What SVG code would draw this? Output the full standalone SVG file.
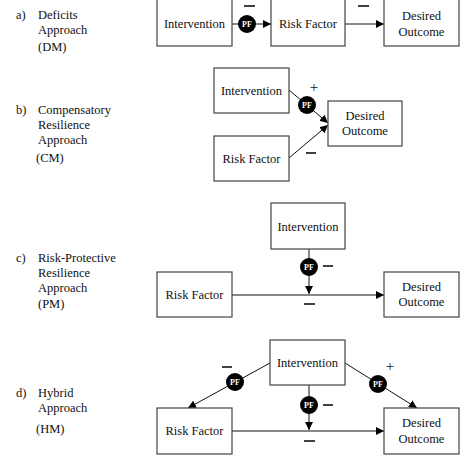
<svg xmlns="http://www.w3.org/2000/svg" width="474" height="469" viewBox="0 0 474 469" font-family="'Liberation Serif', 'Times New Roman', 'DejaVu Serif', serif">
<defs>
<style>
text{font-family:'Liberation Serif','Times New Roman','DejaVu Serif',serif;fill:#111;}
.t{font-size:12.5px;text-anchor:middle;}
.lab{font-size:12.5px;}
.box{fill:#fff;stroke:#444;stroke-width:1.2;}
.ln{stroke:#111;stroke-width:1;fill:none;}
.arr{marker-end:url(#ah);}
.pf{fill:#000;}
.pft{font-size:8px;font-weight:bold;fill:#fff;text-anchor:middle;}
.sg{stroke:#111;stroke-width:1.6;}
.plus{font-size:15px;text-anchor:middle;fill:#111;}
</style>
<marker id="ah" viewBox="0 0 10 10" refX="10" refY="5" markerWidth="8" markerHeight="8" markerUnits="userSpaceOnUse" orient="auto">
<path d="M0,0L10,5L0,10z" fill="#000"/>
</marker>
</defs>
<rect width="474" height="469" fill="#fff"/>

<g id="labels">
<text class="lab" x="16" y="19">a)</text>
<text class="lab" x="38" y="19">Deficits</text>
<text class="lab" x="38" y="34">Approach</text>
<text class="lab" x="38" y="51">(DM)</text>

<text class="lab" x="16" y="114">b)</text>
<text class="lab" x="38" y="114">Compensatory</text>
<text class="lab" x="38" y="129">Resilience</text>
<text class="lab" x="38" y="144">Approach</text>
<text class="lab" x="36" y="162">(CM)</text>

<text class="lab" x="16" y="262">c)</text>
<text class="lab" x="38" y="262">Risk-Protective</text>
<text class="lab" x="38" y="277">Resilience</text>
<text class="lab" x="38" y="292">Approach</text>
<text class="lab" x="38" y="308">(PM)</text>

<text class="lab" x="16" y="397">d)</text>
<text class="lab" x="38" y="397">Hybrid</text>
<text class="lab" x="38" y="412">Approach</text>
<text class="lab" x="36" y="433">(HM)</text>
</g>

<g id="connectors">
<line class="ln arr" x1="232" y1="24" x2="271" y2="24"/>
<line class="ln arr" x1="345" y1="24" x2="384" y2="24"/>
<line class="ln arr" x1="289" y1="90" x2="328" y2="123"/>
<line class="ln arr" x1="289" y1="158" x2="328" y2="125"/>
<line class="ln arr" x1="309" y1="249" x2="309" y2="294"/>
<line class="ln arr" x1="232" y1="295" x2="384" y2="295"/>
<line class="ln arr" x1="270" y1="363" x2="188" y2="408"/>
<line class="ln arr" x1="345" y1="363" x2="417" y2="408"/>
<line class="ln arr" x1="309" y1="385" x2="309" y2="430"/>
<line class="ln arr" x1="232" y1="431" x2="384" y2="431"/>
</g>

<g id="a-intervention"><rect class="box" x="157" y="-2" width="75" height="48"/><text class="t" x="194.5" y="28">Intervention</text></g>
<g id="a-risk"><rect class="box" x="271" y="-2" width="74" height="48"/><text class="t" x="308" y="28">Risk Factor</text></g>
<g id="a-outcome"><rect class="box" x="384" y="-2" width="75" height="48"/><text class="t" x="421.5" y="20">Desired</text><text class="t" x="421.5" y="36">Outcome</text></g>
<g id="a-pf"><circle class="pf" cx="247" cy="24" r="9"/><text class="pft" x="247" y="27">PF</text></g>
<g id="a-signs"><line class="sg" x1="244" y1="6" x2="255" y2="6"/><line class="sg" x1="358" y1="6" x2="369" y2="6"/></g>

<g id="b-intervention"><rect class="box" x="214" y="68" width="75" height="45"/><text class="t" x="251.5" y="95">Intervention</text></g>
<g id="b-risk"><rect class="box" x="214" y="136" width="75" height="45"/><text class="t" x="251.5" y="163">Risk Factor</text></g>
<g id="b-outcome"><rect class="box" x="328" y="101" width="74" height="45"/><text class="t" x="365" y="120">Desired</text><text class="t" x="365" y="135">Outcome</text></g>
<g id="b-pf"><circle class="pf" cx="307" cy="105" r="9"/><text class="pft" x="307" y="108">PF</text></g>
<g id="b-signs"><text class="plus" x="314" y="92">+</text><line class="sg" x1="306" y1="153" x2="316" y2="153"/></g>

<g id="c-intervention"><rect class="box" x="271" y="203" width="74" height="46"/><text class="t" x="308" y="231">Intervention</text></g>
<g id="c-risk"><rect class="box" x="157" y="272" width="75" height="45"/><text class="t" x="194.5" y="299">Risk Factor</text></g>
<g id="c-outcome"><rect class="box" x="384" y="272" width="75" height="45"/><text class="t" x="421.5" y="291">Desired</text><text class="t" x="421.5" y="306">Outcome</text></g>
<g id="c-pf"><circle class="pf" cx="309" cy="267" r="9"/><text class="pft" x="309" y="270">PF</text></g>
<g id="c-signs"><line class="sg" x1="323" y1="266" x2="333" y2="266"/><line class="sg" x1="304" y1="304" x2="315" y2="304"/></g>

<g id="d-intervention"><rect class="box" x="270" y="340" width="75" height="45"/><text class="t" x="307.5" y="367">Intervention</text></g>
<g id="d-risk"><rect class="box" x="157" y="408" width="75" height="46"/><text class="t" x="194.5" y="435">Risk Factor</text></g>
<g id="d-outcome"><rect class="box" x="384" y="408" width="75" height="46"/><text class="t" x="421.5" y="427">Desired</text><text class="t" x="421.5" y="443">Outcome</text></g>
<g id="d-pf-left"><circle class="pf" cx="235" cy="382" r="9"/><text class="pft" x="235" y="385">PF</text></g>
<g id="d-pf-mid"><circle class="pf" cx="309" cy="405" r="9"/><text class="pft" x="309" y="408">PF</text></g>
<g id="d-pf-right"><circle class="pf" cx="378" cy="384" r="9"/><text class="pft" x="378" y="387">PF</text></g>
<g id="d-signs">
<line class="sg" x1="222" y1="367" x2="232" y2="367"/>
<text class="plus" x="390" y="371">+</text>
<line class="sg" x1="323" y1="405" x2="333" y2="405"/>
<line class="sg" x1="304" y1="441" x2="315" y2="441"/>
</g>
</svg>
